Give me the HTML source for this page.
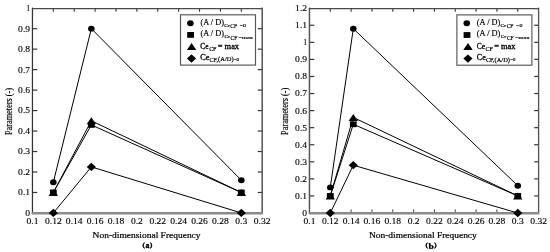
<!DOCTYPE html>
<html><head><meta charset="utf-8"><style>
html,body{margin:0;padding:0;background:#fff;}
svg{display:block;}
text{font-family:"Liberation Serif", "Times New Roman", serif;fill:#000;}
</style></head><body>
<svg width="550" height="252" viewBox="0 0 550 252">
<rect width="550" height="252" fill="#fff"/>
<line x1="53.34" y1="8.20" x2="53.34" y2="11.80" stroke="#333" stroke-width="1.1"/>
<line x1="74.22" y1="8.20" x2="74.22" y2="11.80" stroke="#333" stroke-width="1.1"/>
<line x1="95.11" y1="8.20" x2="95.11" y2="11.80" stroke="#333" stroke-width="1.1"/>
<line x1="116.00" y1="8.20" x2="116.00" y2="11.80" stroke="#333" stroke-width="1.1"/>
<line x1="136.88" y1="8.20" x2="136.88" y2="11.80" stroke="#333" stroke-width="1.1"/>
<line x1="157.77" y1="8.20" x2="157.77" y2="11.80" stroke="#333" stroke-width="1.1"/>
<line x1="178.65" y1="8.20" x2="178.65" y2="11.80" stroke="#333" stroke-width="1.1"/>
<line x1="199.54" y1="8.20" x2="199.54" y2="11.80" stroke="#333" stroke-width="1.1"/>
<line x1="220.43" y1="8.20" x2="220.43" y2="11.80" stroke="#333" stroke-width="1.1"/>
<line x1="241.31" y1="8.20" x2="241.31" y2="11.80" stroke="#333" stroke-width="1.1"/>
<line x1="32.45" y1="192.47" x2="37.25" y2="192.47" stroke="#333" stroke-width="1.2"/>
<line x1="262.20" y1="192.47" x2="257.80" y2="192.47" stroke="#333" stroke-width="1.2"/>
<line x1="32.45" y1="172.00" x2="37.25" y2="172.00" stroke="#333" stroke-width="1.2"/>
<line x1="262.20" y1="172.00" x2="257.80" y2="172.00" stroke="#333" stroke-width="1.2"/>
<line x1="32.45" y1="151.52" x2="37.25" y2="151.52" stroke="#333" stroke-width="1.2"/>
<line x1="262.20" y1="151.52" x2="257.80" y2="151.52" stroke="#333" stroke-width="1.2"/>
<line x1="32.45" y1="131.05" x2="37.25" y2="131.05" stroke="#333" stroke-width="1.2"/>
<line x1="262.20" y1="131.05" x2="257.80" y2="131.05" stroke="#333" stroke-width="1.2"/>
<line x1="32.45" y1="110.57" x2="37.25" y2="110.57" stroke="#333" stroke-width="1.2"/>
<line x1="262.20" y1="110.57" x2="257.80" y2="110.57" stroke="#333" stroke-width="1.2"/>
<line x1="32.45" y1="90.10" x2="37.25" y2="90.10" stroke="#333" stroke-width="1.2"/>
<line x1="262.20" y1="90.10" x2="257.80" y2="90.10" stroke="#333" stroke-width="1.2"/>
<line x1="32.45" y1="69.62" x2="37.25" y2="69.62" stroke="#333" stroke-width="1.2"/>
<line x1="262.20" y1="69.62" x2="257.80" y2="69.62" stroke="#333" stroke-width="1.2"/>
<line x1="32.45" y1="49.15" x2="37.25" y2="49.15" stroke="#333" stroke-width="1.2"/>
<line x1="262.20" y1="49.15" x2="257.80" y2="49.15" stroke="#333" stroke-width="1.2"/>
<line x1="32.45" y1="28.67" x2="37.25" y2="28.67" stroke="#333" stroke-width="1.2"/>
<line x1="262.20" y1="28.67" x2="257.80" y2="28.67" stroke="#333" stroke-width="1.2"/>
<line x1="32.45" y1="7.60" x2="32.45" y2="213.85" stroke="#333" stroke-width="1.25"/>
<line x1="262.20" y1="7.60" x2="262.20" y2="213.85" stroke="#555" stroke-width="1.5"/>
<line x1="32.45" y1="8.55" x2="262.20" y2="8.55" stroke="#4a4a4a" stroke-width="1.2"/>
<line x1="31.85" y1="213.25" x2="262.80" y2="213.25" stroke="#8a8a8a" stroke-width="2.4"/>
<text transform="translate(32.45,224.15) scale(1.260,1)" font-size="7.6" text-anchor="middle" font-weight="normal" stroke="#000" stroke-width="0.12">0.1</text>
<text transform="translate(53.34,224.15) scale(1.260,1)" font-size="7.6" text-anchor="middle" font-weight="normal" stroke="#000" stroke-width="0.12">0.12</text>
<text transform="translate(74.22,224.15) scale(1.260,1)" font-size="7.6" text-anchor="middle" font-weight="normal" stroke="#000" stroke-width="0.12">0.14</text>
<text transform="translate(95.11,224.15) scale(1.260,1)" font-size="7.6" text-anchor="middle" font-weight="normal" stroke="#000" stroke-width="0.12">0.16</text>
<text transform="translate(116.00,224.15) scale(1.260,1)" font-size="7.6" text-anchor="middle" font-weight="normal" stroke="#000" stroke-width="0.12">0.18</text>
<text transform="translate(136.88,224.15) scale(1.260,1)" font-size="7.6" text-anchor="middle" font-weight="normal" stroke="#000" stroke-width="0.12">0.2</text>
<text transform="translate(157.77,224.15) scale(1.260,1)" font-size="7.6" text-anchor="middle" font-weight="normal" stroke="#000" stroke-width="0.12">0.22</text>
<text transform="translate(178.65,224.15) scale(1.260,1)" font-size="7.6" text-anchor="middle" font-weight="normal" stroke="#000" stroke-width="0.12">0.24</text>
<text transform="translate(199.54,224.15) scale(1.260,1)" font-size="7.6" text-anchor="middle" font-weight="normal" stroke="#000" stroke-width="0.12">0.26</text>
<text transform="translate(220.43,224.15) scale(1.260,1)" font-size="7.6" text-anchor="middle" font-weight="normal" stroke="#000" stroke-width="0.12">0.28</text>
<text transform="translate(241.31,224.15) scale(1.260,1)" font-size="7.6" text-anchor="middle" font-weight="normal" stroke="#000" stroke-width="0.12">0.3</text>
<text transform="translate(262.20,224.15) scale(1.260,1)" font-size="7.6" text-anchor="middle" font-weight="normal" stroke="#000" stroke-width="0.12">0.32</text>
<text transform="translate(30.05,215.85) scale(1.260,1)" font-size="7.6" text-anchor="end" font-weight="normal" stroke="#000" stroke-width="0.12">0</text>
<text transform="translate(30.05,195.38) scale(1.260,1)" font-size="7.6" text-anchor="end" font-weight="normal" stroke="#000" stroke-width="0.12">0.1</text>
<text transform="translate(30.05,174.90) scale(1.260,1)" font-size="7.6" text-anchor="end" font-weight="normal" stroke="#000" stroke-width="0.12">0.2</text>
<text transform="translate(30.05,154.42) scale(1.260,1)" font-size="7.6" text-anchor="end" font-weight="normal" stroke="#000" stroke-width="0.12">0.3</text>
<text transform="translate(30.05,133.95) scale(1.260,1)" font-size="7.6" text-anchor="end" font-weight="normal" stroke="#000" stroke-width="0.12">0.4</text>
<text transform="translate(30.05,113.47) scale(1.260,1)" font-size="7.6" text-anchor="end" font-weight="normal" stroke="#000" stroke-width="0.12">0.5</text>
<text transform="translate(30.05,93.00) scale(1.260,1)" font-size="7.6" text-anchor="end" font-weight="normal" stroke="#000" stroke-width="0.12">0.6</text>
<text transform="translate(30.05,72.52) scale(1.260,1)" font-size="7.6" text-anchor="end" font-weight="normal" stroke="#000" stroke-width="0.12">0.7</text>
<text transform="translate(30.05,52.05) scale(1.260,1)" font-size="7.6" text-anchor="end" font-weight="normal" stroke="#000" stroke-width="0.12">0.8</text>
<text transform="translate(30.05,31.57) scale(1.260,1)" font-size="7.6" text-anchor="end" font-weight="normal" stroke="#000" stroke-width="0.12">0.9</text>
<text transform="translate(30.15,11.10) scale(1.008,1)" font-size="7.6" text-anchor="end" font-weight="normal" stroke="#000" stroke-width="0.12">1</text>
<text transform="translate(92.62,237.80) scale(1.184,1)" font-size="8.0" font-weight="normal" stroke="#000" stroke-width="0.2">Non-dimensional Frequency</text>
<text transform="translate(11.85,135.10) scale(1.2,1) rotate(-90)" font-size="8.3" stroke="#000" stroke-width="0.15">Parameters (-)</text>
<text transform="translate(142.58,247.20) scale(1.283,1)" font-size="5.5" font-weight="bold" stroke="#000" stroke-width="0.35">(</text>
<text transform="translate(145.56,248.30) scale(1.099,1)" font-size="7.2" font-weight="bold" stroke="#000" stroke-width="0.25">a</text>
<text transform="translate(150.09,247.20) scale(1.259,1)" font-size="5.5" font-weight="bold" stroke="#000" stroke-width="0.35">)</text>
<polyline points="53.34,182.24 91.35,28.67 241.31,180.19" fill="none" stroke="#000" stroke-width="1"/>
<polyline points="53.34,192.47 91.35,124.91 241.31,192.47" fill="none" stroke="#000" stroke-width="1"/>
<polyline points="53.34,192.47 91.35,120.81 241.31,192.47" fill="none" stroke="#000" stroke-width="1"/>
<polyline points="53.34,212.95 91.35,166.88 241.31,212.95" fill="none" stroke="#000" stroke-width="1"/>
<ellipse cx="53.34" cy="182.24" rx="3.3" ry="2.95" fill="#000"/>
<ellipse cx="91.35" cy="28.67" rx="3.3" ry="2.95" fill="#000"/>
<ellipse cx="241.31" cy="180.19" rx="3.3" ry="2.95" fill="#000"/>
<rect x="49.94" y="189.57" width="6.80" height="5.80" fill="#000"/>
<rect x="87.95" y="122.01" width="6.80" height="5.80" fill="#000"/>
<rect x="237.91" y="189.57" width="6.80" height="5.80" fill="#000"/>
<polygon points="53.34,188.97 58.04,195.97 48.64,195.97" fill="#000"/>
<polygon points="91.35,117.31 96.05,124.31 86.65,124.31" fill="#000"/>
<polygon points="241.31,188.97 246.01,195.97 236.61,195.97" fill="#000"/>
<polygon points="53.34,208.80 57.94,212.95 53.34,217.10 48.74,212.95" fill="#000"/>
<polygon points="91.35,162.73 95.95,166.88 91.35,171.03 86.75,166.88" fill="#000"/>
<polygon points="241.31,208.80 245.91,212.95 241.31,217.10 236.71,212.95" fill="#000"/>
<rect x="180.50" y="14.80" width="75.0" height="50.3" fill="#fff" stroke="#555" stroke-width="1.15"/>
<ellipse cx="190.40" cy="23.20" rx="3.3" ry="2.95" fill="#000"/>
<rect x="187.20" y="32.00" width="6.80" height="5.80" fill="#000"/>
<polygon points="191.60,43.00 196.30,50.00 186.90,50.00" fill="#000"/>
<polygon points="191.50,54.35 196.10,58.50 191.50,62.65 186.90,58.50" fill="#000"/>
<text transform="translate(200.43,24.50) scale(1.093,1)" font-size="7.6" font-weight="normal" stroke="#000" stroke-width="0.15">(A / D)</text>
<text transform="translate(224.19,26.50) scale(1.087,1)" font-size="4.8" font-weight="normal" stroke="#000" stroke-width="0.18">Ce</text>
<text transform="translate(230.28,28.10) scale(1.019,1)" font-size="5.4" font-weight="normal" stroke="#000" stroke-width="0.18">CF</text>
<text transform="translate(239.70,26.90) scale(1.293,1)" font-size="4.6" font-weight="normal" stroke="#000" stroke-width="0.15">=0</text>
<text transform="translate(200.43,35.80) scale(1.093,1)" font-size="7.6" font-weight="normal" stroke="#000" stroke-width="0.15">(A / D)</text>
<text transform="translate(224.39,38.00) scale(1.087,1)" font-size="4.8" font-weight="normal" stroke="#000" stroke-width="0.18">Ce</text>
<text transform="translate(230.48,39.60) scale(1.019,1)" font-size="5.4" font-weight="normal" stroke="#000" stroke-width="0.18">CF</text>
<text transform="translate(238.48,38.50) scale(1.330,1)" font-size="4.8" font-weight="normal" stroke="#000" stroke-width="0.15">=max</text>
<text transform="translate(200.30,48.80) scale(1.005,1)" font-size="7.4" font-weight="normal" stroke="#000" stroke-width="0.3">Ce</text>
<text transform="translate(209.16,50.50) scale(1.100,1)" font-size="5.4" font-weight="normal" stroke="#000" stroke-width="0.2">CF</text>
<text transform="translate(217.78,48.80) scale(1.151,1)" font-size="7.3" font-weight="normal" stroke="#000" stroke-width="0.3">= max</text>
<text transform="translate(200.37,59.70) scale(1.110,1)" font-size="7.4" font-weight="normal" stroke="#000" stroke-width="0.3">Ce</text>
<text transform="translate(209.56,61.50) scale(1.120,1)" font-size="5.4" font-weight="normal" stroke="#000" stroke-width="0.2">CF,</text>
<text transform="translate(218.11,61.40) scale(1.222,1)" font-size="5.3" font-weight="normal" stroke="#000" stroke-width="0.18">(A/D)</text>
<text transform="translate(233.75,61.20) scale(1.070,1)" font-size="4.6" font-weight="normal" stroke="#000" stroke-width="0.18">=0</text>
<line x1="330.28" y1="8.20" x2="330.28" y2="11.80" stroke="#333" stroke-width="1.1"/>
<line x1="330.28" y1="213.00" x2="330.28" y2="209.40" stroke="#444" stroke-width="1.0"/>
<line x1="351.11" y1="8.20" x2="351.11" y2="11.80" stroke="#333" stroke-width="1.1"/>
<line x1="351.11" y1="213.00" x2="351.11" y2="209.40" stroke="#444" stroke-width="1.0"/>
<line x1="371.95" y1="8.20" x2="371.95" y2="11.80" stroke="#333" stroke-width="1.1"/>
<line x1="371.95" y1="213.00" x2="371.95" y2="209.40" stroke="#444" stroke-width="1.0"/>
<line x1="392.78" y1="8.20" x2="392.78" y2="11.80" stroke="#333" stroke-width="1.1"/>
<line x1="392.78" y1="213.00" x2="392.78" y2="209.40" stroke="#444" stroke-width="1.0"/>
<line x1="413.61" y1="8.20" x2="413.61" y2="11.80" stroke="#333" stroke-width="1.1"/>
<line x1="413.61" y1="213.00" x2="413.61" y2="209.40" stroke="#444" stroke-width="1.0"/>
<line x1="434.44" y1="8.20" x2="434.44" y2="11.80" stroke="#333" stroke-width="1.1"/>
<line x1="434.44" y1="213.00" x2="434.44" y2="209.40" stroke="#444" stroke-width="1.0"/>
<line x1="455.27" y1="8.20" x2="455.27" y2="11.80" stroke="#333" stroke-width="1.1"/>
<line x1="455.27" y1="213.00" x2="455.27" y2="209.40" stroke="#444" stroke-width="1.0"/>
<line x1="476.10" y1="8.20" x2="476.10" y2="11.80" stroke="#333" stroke-width="1.1"/>
<line x1="476.10" y1="213.00" x2="476.10" y2="209.40" stroke="#444" stroke-width="1.0"/>
<line x1="496.94" y1="8.20" x2="496.94" y2="11.80" stroke="#333" stroke-width="1.1"/>
<line x1="496.94" y1="213.00" x2="496.94" y2="209.40" stroke="#444" stroke-width="1.0"/>
<line x1="517.77" y1="8.20" x2="517.77" y2="11.80" stroke="#333" stroke-width="1.1"/>
<line x1="517.77" y1="213.00" x2="517.77" y2="209.40" stroke="#444" stroke-width="1.0"/>
<line x1="309.45" y1="195.93" x2="314.25" y2="195.93" stroke="#333" stroke-width="1.2"/>
<line x1="538.60" y1="195.93" x2="534.20" y2="195.93" stroke="#333" stroke-width="1.2"/>
<line x1="309.45" y1="178.87" x2="314.25" y2="178.87" stroke="#333" stroke-width="1.2"/>
<line x1="538.60" y1="178.87" x2="534.20" y2="178.87" stroke="#333" stroke-width="1.2"/>
<line x1="309.45" y1="161.80" x2="314.25" y2="161.80" stroke="#333" stroke-width="1.2"/>
<line x1="538.60" y1="161.80" x2="534.20" y2="161.80" stroke="#333" stroke-width="1.2"/>
<line x1="309.45" y1="144.73" x2="314.25" y2="144.73" stroke="#333" stroke-width="1.2"/>
<line x1="538.60" y1="144.73" x2="534.20" y2="144.73" stroke="#333" stroke-width="1.2"/>
<line x1="309.45" y1="127.67" x2="314.25" y2="127.67" stroke="#333" stroke-width="1.2"/>
<line x1="538.60" y1="127.67" x2="534.20" y2="127.67" stroke="#333" stroke-width="1.2"/>
<line x1="309.45" y1="110.60" x2="314.25" y2="110.60" stroke="#333" stroke-width="1.2"/>
<line x1="538.60" y1="110.60" x2="534.20" y2="110.60" stroke="#333" stroke-width="1.2"/>
<line x1="309.45" y1="93.53" x2="314.25" y2="93.53" stroke="#333" stroke-width="1.2"/>
<line x1="538.60" y1="93.53" x2="534.20" y2="93.53" stroke="#333" stroke-width="1.2"/>
<line x1="309.45" y1="76.47" x2="314.25" y2="76.47" stroke="#333" stroke-width="1.2"/>
<line x1="538.60" y1="76.47" x2="534.20" y2="76.47" stroke="#333" stroke-width="1.2"/>
<line x1="309.45" y1="59.40" x2="314.25" y2="59.40" stroke="#333" stroke-width="1.2"/>
<line x1="538.60" y1="59.40" x2="534.20" y2="59.40" stroke="#333" stroke-width="1.2"/>
<line x1="309.45" y1="42.33" x2="314.25" y2="42.33" stroke="#333" stroke-width="1.2"/>
<line x1="538.60" y1="42.33" x2="534.20" y2="42.33" stroke="#333" stroke-width="1.2"/>
<line x1="309.45" y1="25.27" x2="314.25" y2="25.27" stroke="#333" stroke-width="1.2"/>
<line x1="538.60" y1="25.27" x2="534.20" y2="25.27" stroke="#333" stroke-width="1.2"/>
<line x1="309.45" y1="7.60" x2="309.45" y2="213.90" stroke="#555" stroke-width="1.5"/>
<line x1="538.60" y1="7.60" x2="538.60" y2="213.90" stroke="#555" stroke-width="1.35"/>
<line x1="309.45" y1="8.55" x2="538.60" y2="8.55" stroke="#4a4a4a" stroke-width="1.2"/>
<line x1="308.85" y1="213.30" x2="539.20" y2="213.30" stroke="#8a8a8a" stroke-width="2.4"/>
<text transform="translate(309.45,224.20) scale(1.260,1)" font-size="7.6" text-anchor="middle" font-weight="normal" stroke="#000" stroke-width="0.12">0.1</text>
<text transform="translate(330.28,224.20) scale(1.260,1)" font-size="7.6" text-anchor="middle" font-weight="normal" stroke="#000" stroke-width="0.12">0.12</text>
<text transform="translate(351.11,224.20) scale(1.260,1)" font-size="7.6" text-anchor="middle" font-weight="normal" stroke="#000" stroke-width="0.12">0.14</text>
<text transform="translate(371.95,224.20) scale(1.260,1)" font-size="7.6" text-anchor="middle" font-weight="normal" stroke="#000" stroke-width="0.12">0.16</text>
<text transform="translate(392.78,224.20) scale(1.260,1)" font-size="7.6" text-anchor="middle" font-weight="normal" stroke="#000" stroke-width="0.12">0.18</text>
<text transform="translate(413.61,224.20) scale(1.260,1)" font-size="7.6" text-anchor="middle" font-weight="normal" stroke="#000" stroke-width="0.12">0.2</text>
<text transform="translate(434.44,224.20) scale(1.260,1)" font-size="7.6" text-anchor="middle" font-weight="normal" stroke="#000" stroke-width="0.12">0.22</text>
<text transform="translate(455.27,224.20) scale(1.260,1)" font-size="7.6" text-anchor="middle" font-weight="normal" stroke="#000" stroke-width="0.12">0.24</text>
<text transform="translate(476.10,224.20) scale(1.260,1)" font-size="7.6" text-anchor="middle" font-weight="normal" stroke="#000" stroke-width="0.12">0.26</text>
<text transform="translate(496.94,224.20) scale(1.260,1)" font-size="7.6" text-anchor="middle" font-weight="normal" stroke="#000" stroke-width="0.12">0.28</text>
<text transform="translate(517.77,224.20) scale(1.260,1)" font-size="7.6" text-anchor="middle" font-weight="normal" stroke="#000" stroke-width="0.12">0.3</text>
<text transform="translate(538.60,224.20) scale(1.260,1)" font-size="7.6" text-anchor="middle" font-weight="normal" stroke="#000" stroke-width="0.12">0.32</text>
<text transform="translate(307.05,215.90) scale(1.260,1)" font-size="7.6" text-anchor="end" font-weight="normal" stroke="#000" stroke-width="0.12">0</text>
<text transform="translate(307.05,198.83) scale(1.260,1)" font-size="7.6" text-anchor="end" font-weight="normal" stroke="#000" stroke-width="0.12">0.1</text>
<text transform="translate(307.05,181.77) scale(1.260,1)" font-size="7.6" text-anchor="end" font-weight="normal" stroke="#000" stroke-width="0.12">0.2</text>
<text transform="translate(307.05,164.70) scale(1.260,1)" font-size="7.6" text-anchor="end" font-weight="normal" stroke="#000" stroke-width="0.12">0.3</text>
<text transform="translate(307.05,147.63) scale(1.260,1)" font-size="7.6" text-anchor="end" font-weight="normal" stroke="#000" stroke-width="0.12">0.4</text>
<text transform="translate(307.05,130.57) scale(1.260,1)" font-size="7.6" text-anchor="end" font-weight="normal" stroke="#000" stroke-width="0.12">0.5</text>
<text transform="translate(307.05,113.50) scale(1.260,1)" font-size="7.6" text-anchor="end" font-weight="normal" stroke="#000" stroke-width="0.12">0.6</text>
<text transform="translate(307.05,96.43) scale(1.260,1)" font-size="7.6" text-anchor="end" font-weight="normal" stroke="#000" stroke-width="0.12">0.7</text>
<text transform="translate(307.05,79.37) scale(1.260,1)" font-size="7.6" text-anchor="end" font-weight="normal" stroke="#000" stroke-width="0.12">0.8</text>
<text transform="translate(307.05,62.30) scale(1.260,1)" font-size="7.6" text-anchor="end" font-weight="normal" stroke="#000" stroke-width="0.12">0.9</text>
<text transform="translate(307.15,45.23) scale(1.008,1)" font-size="7.6" text-anchor="end" font-weight="normal" stroke="#000" stroke-width="0.12">1</text>
<text transform="translate(307.05,28.17) scale(1.260,1)" font-size="7.6" text-anchor="end" font-weight="normal" stroke="#000" stroke-width="0.12">1.1</text>
<text transform="translate(307.05,11.10) scale(1.260,1)" font-size="7.6" text-anchor="end" font-weight="normal" stroke="#000" stroke-width="0.12">1.2</text>
<text transform="translate(368.92,237.80) scale(1.183,1)" font-size="8.0" font-weight="normal" stroke="#000" stroke-width="0.2">Non-dimensional Frequency</text>
<text transform="translate(288.05,134.90) scale(1.2,1) rotate(-90)" font-size="8.3" stroke="#000" stroke-width="0.15">Parameters (-)</text>
<text transform="translate(425.58,247.40) scale(1.238,1)" font-size="5.7" font-weight="bold" stroke="#000" stroke-width="0.35">(</text>
<text transform="translate(428.46,248.50) scale(1.288,1)" font-size="7.3" font-weight="bold" stroke="#000" stroke-width="0.25">b</text>
<text transform="translate(434.19,247.40) scale(1.215,1)" font-size="5.7" font-weight="bold" stroke="#000" stroke-width="0.35">)</text>
<polyline points="330.28,187.40 353.30,28.68 517.77,185.69" fill="none" stroke="#000" stroke-width="1"/>
<polyline points="330.28,195.93 353.30,124.25 517.77,195.93" fill="none" stroke="#000" stroke-width="1"/>
<polyline points="330.28,195.93 353.30,117.43 517.77,195.93" fill="none" stroke="#000" stroke-width="1"/>
<polyline points="330.28,213.00 353.30,165.21 517.77,213.00" fill="none" stroke="#000" stroke-width="1"/>
<ellipse cx="330.28" cy="187.40" rx="3.3" ry="2.95" fill="#000"/>
<ellipse cx="353.30" cy="28.68" rx="3.3" ry="2.95" fill="#000"/>
<ellipse cx="517.77" cy="185.69" rx="3.3" ry="2.95" fill="#000"/>
<rect x="326.88" y="193.03" width="6.80" height="5.80" fill="#000"/>
<rect x="349.90" y="121.35" width="6.80" height="5.80" fill="#000"/>
<rect x="514.37" y="193.03" width="6.80" height="5.80" fill="#000"/>
<polygon points="330.28,192.43 334.98,199.43 325.58,199.43" fill="#000"/>
<polygon points="353.30,113.93 358.00,120.93 348.60,120.93" fill="#000"/>
<polygon points="517.77,192.43 522.47,199.43 513.07,199.43" fill="#000"/>
<polygon points="330.28,208.85 334.88,213.00 330.28,217.15 325.68,213.00" fill="#000"/>
<polygon points="353.30,161.06 357.90,165.21 353.30,169.36 348.70,165.21" fill="#000"/>
<polygon points="517.77,208.85 522.37,213.00 517.77,217.15 513.17,213.00" fill="#000"/>
<rect x="456.90" y="14.90" width="75.0" height="50.3" fill="#fff" stroke="#555" stroke-width="1.15"/>
<ellipse cx="466.80" cy="23.30" rx="3.3" ry="2.95" fill="#000"/>
<rect x="463.60" y="32.10" width="6.80" height="5.80" fill="#000"/>
<polygon points="468.00,43.10 472.70,50.10 463.30,50.10" fill="#000"/>
<polygon points="467.90,54.45 472.50,58.60 467.90,62.75 463.30,58.60" fill="#000"/>
<text transform="translate(476.83,24.60) scale(1.093,1)" font-size="7.6" font-weight="normal" stroke="#000" stroke-width="0.15">(A / D)</text>
<text transform="translate(500.59,26.60) scale(1.087,1)" font-size="4.8" font-weight="normal" stroke="#000" stroke-width="0.18">Ce</text>
<text transform="translate(506.68,28.20) scale(1.019,1)" font-size="5.4" font-weight="normal" stroke="#000" stroke-width="0.18">CF</text>
<text transform="translate(516.10,27.00) scale(1.293,1)" font-size="4.6" font-weight="normal" stroke="#000" stroke-width="0.15">=0</text>
<text transform="translate(476.83,35.90) scale(1.093,1)" font-size="7.6" font-weight="normal" stroke="#000" stroke-width="0.15">(A / D)</text>
<text transform="translate(500.79,38.10) scale(1.087,1)" font-size="4.8" font-weight="normal" stroke="#000" stroke-width="0.18">Ce</text>
<text transform="translate(506.88,39.70) scale(1.019,1)" font-size="5.4" font-weight="normal" stroke="#000" stroke-width="0.18">CF</text>
<text transform="translate(514.88,38.60) scale(1.330,1)" font-size="4.8" font-weight="normal" stroke="#000" stroke-width="0.15">=max</text>
<text transform="translate(476.70,48.90) scale(1.005,1)" font-size="7.4" font-weight="normal" stroke="#000" stroke-width="0.3">Ce</text>
<text transform="translate(485.56,50.60) scale(1.100,1)" font-size="5.4" font-weight="normal" stroke="#000" stroke-width="0.2">CF</text>
<text transform="translate(494.18,48.90) scale(1.151,1)" font-size="7.3" font-weight="normal" stroke="#000" stroke-width="0.3">= max</text>
<text transform="translate(476.77,59.80) scale(1.110,1)" font-size="7.4" font-weight="normal" stroke="#000" stroke-width="0.3">Ce</text>
<text transform="translate(485.96,61.60) scale(1.120,1)" font-size="5.4" font-weight="normal" stroke="#000" stroke-width="0.2">CF,</text>
<text transform="translate(494.51,61.50) scale(1.222,1)" font-size="5.3" font-weight="normal" stroke="#000" stroke-width="0.18">(A/D)</text>
<text transform="translate(510.15,61.30) scale(1.070,1)" font-size="4.6" font-weight="normal" stroke="#000" stroke-width="0.18">=0</text>
</svg>
</body></html>
